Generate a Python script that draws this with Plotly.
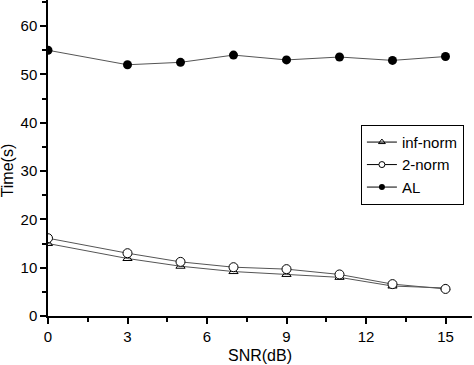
import plotly.graph_objects as go

snr = [0, 3, 5, 7, 9, 11, 13, 15]
inf_norm = [15.0, 11.9, 10.3, 9.2, 8.6, 8.0, 6.2, 5.8]
two_norm = [16.1, 13.0, 11.2, 10.1, 9.7, 8.6, 6.6, 5.6]
al = [55.0, 52.0, 52.5, 54.0, 53.0, 53.6, 52.9, 53.7]

x_ticks = [0, 3, 6, 9, 12, 15]
y_ticks = [0, 10, 20, 30, 40, 50, 60]

font = "Liberation Sans, Arial, sans-serif"
line_col = "#555555"

series = [
    ("inf-norm", inf_norm, dict(symbol="triangle-up-open", size=8, color="black",
                                line=dict(width=1, color="black")),
     dict(symbol="triangle-up-open", size=6, color="black", line=dict(width=1, color="black"))),
    ("2-norm", two_norm, dict(symbol="circle", size=9, color="white",
                              line=dict(width=1, color="black")),
     dict(symbol="circle", size=6, color="white", line=dict(width=1, color="black"))),
    ("AL", al, dict(symbol="circle", size=9, color="black"),
     dict(symbol="circle", size=6, color="black")),
]

fig = go.Figure()
for name, vals, mk, _ in series:
    fig.add_trace(go.Scatter(x=snr, y=vals, name=name, mode="lines+markers",
                             line=dict(color=line_col, width=1), marker=mk,
                             showlegend=False))
# legend entries with smaller symbols, as in the reference
for name, vals, _, lmk in series:
    fig.add_trace(go.Scatter(x=[None], y=[None], name=name, mode="lines+markers",
                             line=dict(color="black", width=1), marker=lmk))

fig.update_layout(
    width=474, height=365,
    margin=dict(l=48, r=2, t=0, b=49),
    paper_bgcolor="white", plot_bgcolor="white",
    font=dict(family=font, size=14, color="black"),
    showlegend=True,
    legend=dict(x=0.738, y=0.605, xanchor="left", yanchor="top",
                bordercolor="black", borderwidth=1, bgcolor="white",
                font=dict(size=15), tracegroupgap=0, itemwidth=30),
    xaxis=dict(range=[0, 16], tickvals=x_ticks, ticktext=[str(v) for v in x_ticks],
               showgrid=False, zeroline=False, showline=True, linecolor="black",
               linewidth=1.5, ticks="outside", ticklen=6, tickwidth=1.5, tickcolor="black",
               tickfont=dict(size=15), automargin=False,
               minor=dict(tickvals=[1.5, 4.5, 7.5, 10.5, 13.5], ticks="outside",
                          ticklen=4, tickwidth=1.5, tickcolor="black")),
    yaxis=dict(range=[0, 65.4], tickvals=y_ticks, ticktext=[str(v) for v in y_ticks],
               showgrid=False, zeroline=False, showline=True, linecolor="black",
               linewidth=1.5, ticks="outside", ticklen=6, tickwidth=1.5, tickcolor="black",
               tickfont=dict(size=15), automargin=False,
               minor=dict(tickvals=[5, 15, 25, 35, 45, 55, 65], ticks="outside",
                          ticklen=4, tickwidth=1.5, tickcolor="black")),
    annotations=[
        dict(text="SNR(dB)", xref="paper", yref="paper", x=0.5, y=-0.125,
             xanchor="center", yanchor="middle", showarrow=False, font=dict(size=16)),
        dict(text="Time(s)", xref="paper", yref="paper", x=-0.095, y=0.46,
             xanchor="center", yanchor="middle", showarrow=False, textangle=-90,
             font=dict(size=16)),
    ],
)

fig.write_html("out.html", config={"displayModeBar": False},
               post_script="document.body.style.margin='0';")
